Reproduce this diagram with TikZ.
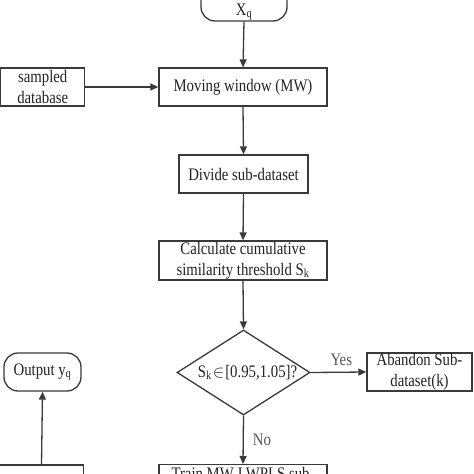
\documentclass[tikz,border=0pt]{standalone}
\usepackage{fontspec}
\setmainfont{Liberation Serif}[FakeStretch=0.84]
\usetikzlibrary{arrows.meta,shapes.geometric}
\definecolor{ln}{HTML}{3A3A3A}
\definecolor{tx}{HTML}{222222}
\definecolor{lb}{HTML}{555555}
\begin{document}
\begin{tikzpicture}[x=1pt,y=-1pt,
  every node/.style={font=\fontsize{17.6}{21}\selectfont, text=tx, inner sep=0pt, align=center},
  box/.style={draw=ln, line width=1.3pt, minimum width=#1, minimum height=38pt},
  pill/.style={draw=ln, line width=1.3pt, rounded corners=14pt, minimum width=#1, minimum height=38pt},
  conn/.style={draw=ln, line width=1.3pt, -{Triangle[length=8pt,width=7pt]}},
  lab/.style={text=lb}]
\useasboundingbox (0,0) rectangle (474,474);
\clip (0,0) rectangle (474,474);
% nodes
\node[pill=86pt, minimum height=46pt] (top) at (244,-2) {};
\node[anchor=base] (xq) at (244,15) {X\textsubscript{q}};
\node[box=168pt] (mw) at (243,87) {Moving window (MW)};
\node[box=84pt] (samp) at (42.7,87) {sampled\\database};
\node[box=129pt] (div) at (243.5,174) {Divide sub-dataset};
\node[box=168pt, minimum height=39pt] (calc) at (243,260.5) {Calculate cumulative\\similarity threshold S\textsubscript{k}};
\node[draw=ln, line width=1.3pt, shape=diamond, minimum width=133pt, minimum height=85pt] (dec) at (243.5,372.5) {};
\node (dectext) at (247.5,372.5) {S\textsubscript{k}\kern1pt$\in$\kern1pt[0.95,1.05]?};
\node[box=105pt] (aband) at (419.5,372) {Abandon Sub-\\dataset(k)};
\node[pill=77pt] (out) at (42.5,372) {Output y\textsubscript{q}};
\node[box=84pt] (bl) at (41.5,484) {};
\node[box=168pt, anchor=north, text depth=22pt, text height=14pt] (train) at (243,464) {Train MW-LWPLS sub-};
% connectors
\draw[conn] (top.south) -- (mw.north);
\draw[conn] (samp.east) -- (mw.west);
\draw[conn] (mw.south) -- (div.north);
\draw[conn] (div.south) -- (calc.north);
\draw[conn] (calc.south) -- (dec.north);
\draw[conn] (dec.east) -- node[lab, above=6pt, pos=0.55] {Yes} (aband.west);
\draw[conn] (dec.south) -- node[lab, right=9pt] {No} (train.north);
\draw[conn] (bl.north) -- (out.south);
\end{tikzpicture}
\end{document}
